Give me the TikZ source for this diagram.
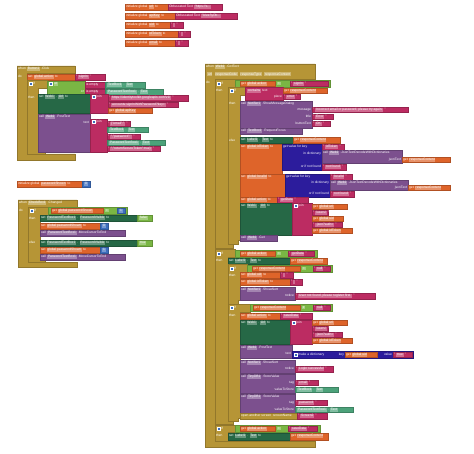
\documentclass[tikz,border=0pt]{standalone}
\usepackage{fontspec}
\setmainfont{Liberation Sans}
\usetikzlibrary{positioning}

\definecolor{evtc}{RGB}{182,149,54}
\definecolor{varc}{RGB}{222,100,42}
\definecolor{txtc}{RGB}{188,44,98}
\definecolor{lgcc}{RGB}{122,182,68}
\definecolor{csetc}{RGB}{38,104,70}
\definecolor{cmethc}{RGB}{124,80,142}
\definecolor{cgetc}{RGB}{76,162,122}
\definecolor{dictc}{RGB}{44,28,156}
\definecolor{numc}{RGB}{60,110,190}

\tikzset{
  evtb/.style={fill=evtc,draw=evtc!80!black,line width=.25pt},
  varb/.style={fill=varc,draw=varc!80!black,line width=.25pt},
  txtb/.style={fill=txtc,draw=txtc!80!black,line width=.25pt},
  lgcb/.style={fill=lgcc,draw=lgcc!80!black,line width=.25pt},
  csetb/.style={fill=csetc,draw=csetc!80!black,line width=.25pt},
  cmethb/.style={fill=cmethc,draw=cmethc!80!black,line width=.25pt},
  cgetb/.style={fill=cgetc,draw=cgetc!80!black,line width=.25pt},
  dictb/.style={fill=dictc,draw=dictc!80!black,line width=.25pt},
  numb/.style={fill=numc,draw=numc!80!black,line width=.25pt},
  lbl/.style={anchor=north west,text=white,inner xsep=.9pt,inner ysep=1.2pt,
    text height=2.4pt,text depth=.6pt,font=\fontsize{3.3}{3.6}\selectfont},
  fld/.style={lbl,fill=white,fill opacity=.3,text opacity=1,inner xsep=.7pt,inner ysep=.5pt},
  gear/.style={anchor=west,fill=numc,draw=white,line width=.2pt,minimum size=3pt,inner sep=0pt}
}

\newcommand\BkInit[4]{\path[varb] (#2) rectangle (#3);
  \node[lbl] (#1) at (#2) {initialize global};
  \node[fld,right=0pt of #1] (#1-a) {#4};
  \node[lbl,right=0pt of #1-a] (#1-b) {to};}
\newcommand\BkGet[4]{\path[varb] (#2) rectangle (#3);
  \node[lbl] (#1) at (#2) {get};
  \node[fld,right=0pt of #1] (#1-a) {#4};}
\newcommand\BkSet[4]{\path[varb] (#2) rectangle (#3);
  \node[lbl] (#1) at (#2) {set};
  \node[fld,right=0pt of #1] (#1-a) {#4};
  \node[lbl,right=0pt of #1-a] (#1-b) {to};}
\newcommand\BkCset[5]{\path[csetb] (#2) rectangle (#3);
  \node[lbl] (#1) at (#2) {set};
  \node[fld,right=0pt of #1] (#1-a) {#4};
  \node[lbl,right=0pt of #1-a] (#1-b) {.};
  \node[fld,right=0pt of #1-b] (#1-c) {#5};
  \node[lbl,right=0pt of #1-c] (#1-d) {to};}
\newcommand\BkCget[5]{\path[cgetb] (#2) rectangle (#3);
  \node[lbl] (#1) at (#2) {};
  \node[fld,right=0pt of #1] (#1-a) {#4};
  \node[lbl,right=0pt of #1-a] (#1-b) {.};
  \node[fld,right=0pt of #1-b] (#1-c) {#5};}
\newcommand\BkCall[5]{\path[cmethb] (#2) rectangle (#3);
  \node[lbl] (#1) at (#2) {call};
  \node[fld,right=0pt of #1] (#1-a) {#4};
  \node[lbl,right=0pt of #1-a] (#1-b) {.#5};}
\newcommand\BkStr[4]{\path[txtb] (#2) rectangle (#3);
  \node[lbl] (#1) at (#2) {"};
  \node[fld,right=0pt of #1] (#1-a) {#4};
  \node[lbl,right=0pt of #1-a] (#1-b) {"};}
\newcommand\BkNum[4]{\path[numb] (#2) rectangle (#3);
  \node[lbl] (#1) at (#2) {};
  \node[fld,right=0pt of #1] (#1-a) {#4};}
\newcommand\BkBool[4]{\path[lgcb] (#2) rectangle (#3);
  \node[lbl] (#1) at (#2) {};
  \node[fld,right=0pt of #1] (#1-a) {#4};}
\newcommand\BkJoin[3]{\path[txtb] (#2) rectangle (#3);
  \node[lbl] (#1) at (#2) {};
  \node[gear,right=0pt of #1] (#1-g) {};
  \node[lbl,right=0pt of #1-g] (#1-j) {join};}
\newcommand\BkIf[2]{\node[lbl] (#1) at (#2) {};
  \node[gear,right=0pt of #1] (#1-g) {};
  \node[lbl,right=0pt of #1-g] (#1-i) {if};}

\begin{document}
\begin{tikzpicture}[x=1bp,y=-1bp]
  \fill[white] (0,0) rectangle (474,454);
  \useasboundingbox (0,0) rectangle (474,454);

  \BkInit{gu}{125,4}{168,10}{url}
  \path[txtb] (168,4) rectangle (222,10);
  \node[lbl] (gus) at (168,4) {Obfuscated Text};
  \node[fld,right=0pt of gus] (gus-a) {"https://s...};
  \BkInit{gk}{125,13}{175,19}{apiKey}
  \path[txtb] (175,13) rectangle (237,19);
  \node[lbl] (gks) at (175,13) {Obfuscated Text};
  \node[fld,right=0pt of gks] (gks-a) {"AIzaSyDb...};
  \BkInit{gi}{125,22}{170,28}{uid}
  \BkStr{gis}{170,22}{183,28}{\,}
  \BkInit{gt}{125,31}{178,37}{idToken}
  \BkStr{gts}{178,31}{190,37}{\,}
  \BkInit{ge}{125,40}{175,46}{email}
  \BkStr{ges}{175,40}{188,46}{\,}

  \path[evtb] (17,66) -- (75,66) -- (75,73) -- (27,73) -- (27,154) -- (75,154) -- (75,160) -- (17,160) -- cycle;
  \node[lbl] (ck) at (17,66) {when};
  \node[fld,right=0pt of ck] (ck-a) {Button1};
  \node[lbl,right=0pt of ck-a] (ck-b) {.Click};
  \node[lbl] (ck-do) at (17,74) {do};
  \BkSet{ca}{27,74}{75,80}{global action}
  \BkStr{cas}{75,74}{105,80}{signIn}
  \path[evtb] (27,80) -- (47,80) -- (47,88) -- (38,88) -- (38,150) -- (45,150) -- (45,154) -- (27,154) -- cycle;
  \BkIf{cif}{27,81}
  \node[lbl] (cif-t) at (27,95) {then};
  \path[lgcb] (47,81) rectangle (85,96);
  \node[lbl] (cor) at (47,81) {};
  \node[gear,right=0pt of cor] (cor-g) {};
  \node[fld,right=1pt of cor-g] (cor-a) {or};
  \node[lbl,anchor=north east] (cor-b) at (85,89) {or};
  \path[txtb] (85,82) rectangle (105,88);
  \node[lbl] (ie1) at (85,82) {is empty};
  \path[txtb] (85,89) rectangle (105,95);
  \node[lbl] (ie2) at (85,89) {is empty};
  \BkCget{tb1}{105,82}{145,88}{TextBox1}{Text}
  \BkCget{pw1}{105,89}{163,95}{PasswordTextBox1}{Text}
  \BkCset{wu}{38,94}{90,113}{Web1}{Url}
  \BkJoin{wuj}{90,94}{108,113}
  \BkStr{wu1}{108,95}{188,101}{https://identitytoolkit.googleapis.com/v1/}
  \BkStr{wu2}{108,102}{178,107}{accounts:signInWithPassword?key=}
  \BkGet{wu3}{108,108}{152,113}{global apiKey}
  \BkCall{pt}{38,114}{90,152}{Web1}{PostText}
  \node[lbl,anchor=north east] (pt-t) at (90,120) {text};
  \BkJoin{ptj}{90,119}{107,152}
  \BkStr{pt1}{107,121}{130,126}{\{"email":"}
  \BkCget{pt2}{107,127}{148,132}{TextBox1}{Text}
  \BkStr{pt3}{107,134}{140,139}{","password":"}
  \BkCget{pt4}{107,140}{165,145}{PasswordTextBox1}{Text}
  \BkStr{pt5}{107,146}{160,151}{","returnSecureToken":true\}}

  \BkInit{gs}{17,181}{82,187}{passwordShown}
  \BkNum{gsn}{82,181}{90,187}{0}

  \path[evtb] (18,200) -- (77,200) -- (77,207) -- (28,207) -- (28,262) -- (77,262) -- (77,267) -- (18,267) -- cycle;
  \node[lbl] (cb) at (18,200) {when};
  \node[fld,right=0pt of cb] (cb-a) {CheckBox1};
  \node[lbl,right=0pt of cb-a] (cb-b) {.Changed};
  \node[lbl] (cb-do) at (18,208) {do};
  \path[evtb] (28,207) -- (48,207) -- (48,215) -- (40,215) -- (40,258) -- (45,258) -- (45,262) -- (28,262) -- cycle;
  \BkIf{cbif}{28,208}
  \node[lbl] (cbif-t) at (28,216) {then};
  \node[lbl] (cbif-e) at (28,240) {else};
  \path[lgcb] (48,207) rectangle (127,214);
  \BkGet{cbc}{51,208}{103,213}{global passwordShown}
  \node[fld,anchor=west] (cbc-e) at (105,210.5) {=};
  \BkNum{cbcn}{117,208}{125,213}{1}
  \BkCset{cb1}{40,215}{137,221}{PasswordTextBox1}{PasswordVisible}
  \BkBool{cb1b}{137,215}{152,221}{false}
  \BkSet{cb2}{40,223}{100,229}{global passwordShown}
  \BkNum{cb2n}{100,223}{108,229}{0}
  \BkCall{cb3}{40,230}{125,236}{PasswordTextBox1}{MoveCursorToEnd}
  \BkCset{cb4}{40,240}{137,246}{PasswordTextBox1}{PasswordVisible}
  \BkBool{cb4b}{137,240}{152,246}{true}
  \BkSet{cb5}{40,247}{100,253}{global passwordShown}
  \BkNum{cb5n}{100,247}{108,253}{1}
  \BkCall{cb6}{40,254}{125,260}{PasswordTextBox1}{MoveCursorToEnd}

  \path[evtb] (205,64) -- (315,64) -- (315,79) -- (215,79) -- (215,441) -- (315,441) -- (315,447) -- (205,447) -- cycle;
  \node[lbl] (gt) at (205,64) {when};
  \node[fld,right=0pt of gt] (gt-a) {Web1};
  \node[lbl,right=0pt of gt-a] (gt-b) {.GotText};
  \node[lbl] (gt-p) at (205,71.5) {};
  \node[fld,right=0pt of gt-p] (gt-p1) {url};
  \node[fld,right=2pt of gt-p1] (gt-p2) {responseCode};
  \node[fld,right=2pt of gt-p2] (gt-p3) {responseType};
  \node[fld,right=2pt of gt-p3] (gt-p4) {responseContent};
  \node[lbl] (gt-do) at (205,80) {do};

  \path[evtb] (215,79) -- (235,79) -- (235,87) -- (228,87) -- (228,243) -- (233,243) -- (233,248) -- (215,248) -- cycle;
  \BkIf{ia}{215,80.5}
  \node[lbl] (ia-t) at (215,88) {then};
  \path[lgcb] (235,80) rectangle (330,87);
  \BkGet{iac}{240,81}{275,86}{global action}
  \node[fld,anchor=west] (iac-e) at (277,83.5) {=};
  \BkStr{iacs}{290,81}{328,86}{signIn}
  \path[evtb] (228,87) -- (245,87) -- (245,95) -- (240,95) -- (240,240) -- (238,240) -- (238,244) -- (228,244) -- cycle;
  \BkIf{ib}{228,88}
  \node[lbl] (ib-t) at (228,101) {then};
  \node[lbl] (ib-e) at (228,138) {else};
  \path[txtb] (245,87) rectangle (283,100);
  \node[lbl] (ibc) at (245,88) {};
  \node[fld,right=0pt of ibc] (ibc-a) {contains};
  \node[lbl,right=0pt of ibc-a] (ibc-b) {text};
  \node[lbl,anchor=north east] (ibc-p) at (283,94) {piece};
  \BkGet{ibc1}{283,88}{327,93}{responseContent}
  \BkStr{ibc2}{283,94}{300,99}{error}
  \BkCall{md}{240,101}{312,128}{Notifier1}{ShowMessageDialog}
  \node[lbl,anchor=north east] (md-m) at (312,107) {message};
  \node[lbl,anchor=north east] (md-t) at (312,114) {title};
  \node[lbl,anchor=north east] (md-b) at (312,121) {buttonText};
  \BkStr{md1}{312,107}{408,112}{Incorrect email or password, please try again.}
  \BkStr{md2}{312,114}{333,119}{Error}
  \BkStr{md3}{312,121}{330,126}{OK}
  \BkCall{rf}{240,128}{302,134}{TextBox1}{RequestFocus}
  \BkCset{lb}{240,137}{293,143}{Label1}{Text}
  \BkGet{lbv}{293,137}{340,143}{responseContent}

  \BkSet{da}{240,144}{282,174}{global idToken}
  \path[dictb] (282,144) rectangle (322,170);
  \node[lbl] (dak) at (282,144) {get value for key};
  \node[lbl,anchor=north east] (dai) at (322,151) {in dictionary};
  \node[lbl,anchor=north east] (dan) at (322,164) {or if not found};
  \BkStr{daks}{322,144}{344,150}{idToken}
  \BkCall{dac}{322,150}{402,163}{Web1}{JsonTextDecodeWithDictionaries}
  \node[lbl,anchor=north east] (dac-j) at (402,157) {jsonText};
  \BkGet{daj}{402,157}{450,162}{responseContent}
  \BkStr{dans}{322,164}{346,170}{not found}
  \BkSet{db}{240,174}{285,197}{global localId}
  \path[dictb] (285,174) rectangle (330,197);
  \node[lbl] (dbk) at (285,174) {get value for key};
  \node[lbl,anchor=north east] (dbi) at (330,180) {in dictionary};
  \node[lbl,anchor=north east] (dbn) at (330,191) {or if not found};
  \BkStr{dbks}{330,174}{352,180}{localId}
  \BkCall{dbc}{330,180}{408,190}{Web1}{JsonTextDecodeWithDictionaries}
  \node[lbl,anchor=north east] (dbc-j) at (408,185) {jsonText};
  \BkGet{dbj}{408,185}{450,190}{responseContent}
  \BkStr{dbns}{330,191}{354,197}{not found}

  \BkSet{ac}{240,197}{277,203}{global action}
  \BkStr{acs}{277,197}{308,203}{getData}
  \BkCset{wg}{240,203}{292,235}{Web1}{Url}
  \BkJoin{wgj}{292,203}{312,235}
  \BkGet{wg1}{312,204}{347,209}{global url}
  \BkStr{wg2}{312,210}{328,215}{/users/}
  \BkGet{wg3}{312,216}{343,221}{global uid}
  \BkStr{wg4}{312,222}{342,227}{.json?auth=}
  \BkGet{wg5}{312,228}{352,233}{global idToken}
  \BkCall{wgc}{240,235}{277,241}{Web1}{Get}

  \path[evtb] (215,249) -- (235,249) -- (235,257) -- (228,257) -- (228,420) -- (233,420) -- (233,424) -- (215,424) -- cycle;
  \BkIf{ic}{215,250.5}
  \node[lbl] (ic-t) at (215,258) {then};
  \path[lgcb] (235,250) rectangle (317,257);
  \BkGet{icc}{240,251}{275,256}{global action}
  \node[fld,anchor=west] (icc-e) at (277,253.5) {=};
  \BkStr{iccs}{288,251}{314,256}{getData}
  \BkCset{lc}{228,258}{290,264}{Label1}{Text}
  \BkGet{lcv}{290,258}{327,264}{responseContent}

  \path[evtb] (228,264.5) -- (247,264.5) -- (247,272) -- (240,272) -- (240,300) -- (238,300) -- (238,304) -- (228,304) -- cycle;
  \BkIf{id}{228,265.5}
  \node[lbl] (id-t) at (228,273) {then};
  \path[lgcb] (247,265) rectangle (332,272);
  \BkGet{idc}{252,266}{300,271}{responseContent}
  \node[fld,anchor=west] (idc-e) at (302,268.5) {=};
  \BkStr{idcs}{313,266}{330,271}{null}
  \BkSet{ud}{240,272}{280,278}{global uid}
  \BkStr{uds}{280,272}{293,278}{\,}
  \BkSet{td}{240,279}{290,285}{global idToken}
  \BkStr{tds}{290,279}{302,285}{\,}
  \BkCall{sa}{240,287}{295,300}{Notifier1}{ShowAlert}
  \node[lbl,anchor=north east] (sa-n) at (295,293) {notice};
  \BkStr{sas}{295,293}{375,299}{User not found, please register first.}

  \path[evtb] (228,304) -- (250,304) -- (250,312) -- (240,312) -- (240,418) -- (238,418) -- (238,421) -- (228,421) -- cycle;
  \BkIf{ie}{228,305}
  \node[lbl] (ie-t) at (228,313) {then};
  \path[lgcb] (250,304) rectangle (332,311);
  \BkGet{iec}{253,305}{300,310}{responseContent}
  \node[fld,anchor=west] (iec-e) at (302,307.5) {≠};
  \BkStr{iecs}{313,305}{330,310}{null}
  \BkSet{as}{240,313}{280,319}{global action}
  \BkStr{ass}{280,313}{312,319}{saveData}
  \BkCset{wp}{240,320}{290,344}{Web1}{Url}
  \BkJoin{wpj}{290,320}{312,344}
  \BkGet{wp1}{312,320}{347,325}{global url}
  \BkStr{wp2}{312,326}{328,331}{/users/}
  \BkStr{wp3}{312,332}{342,337}{.json?auth=}
  \BkGet{wp4}{312,338}{352,343}{global idToken}
  \BkCall{pp}{240,345}{292,358}{Web1}{PostText}
  \node[lbl,anchor=north east] (pp-t) at (292,351) {text};
  \path[dictb] (292,351) rectangle (413,358);
  \node[lbl] (mk) at (292,351.5) {};
  \node[gear,right=0pt of mk] (mk-g) {};
  \node[lbl,right=0pt of mk-g] (mk-a) {make a dictionary};
  \node[lbl,anchor=north east] (mk-k) at (345,351.5) {key};
  \BkGet{mkk}{345,352}{377,357}{global uid}
  \node[lbl,anchor=north east] (mk-v) at (393,351.5) {value};
  \BkStr{mkv}{393,352}{412,357}{true}
  \BkCall{sb}{240,360}{295,373}{Notifier1}{ShowAlert}
  \node[lbl,anchor=north east] (sb-n) at (295,366) {notice};
  \BkStr{sbs}{295,366}{333,372}{Login successful}
  \BkCall{sv}{240,374}{295,393}{TinyDB1}{StoreValue}
  \node[lbl,anchor=north east] (sv-t) at (295,380) {tag};
  \node[lbl,anchor=north east] (sv-v) at (295,387) {valueToStore};
  \BkStr{svt}{295,380}{318,385}{email}
  \BkCget{svv}{295,387}{338,392}{TextBox1}{Text}
  \BkCall{sw}{240,394}{295,413}{TinyDB1}{StoreValue}
  \node[lbl,anchor=north east] (sw-t) at (295,400) {tag};
  \node[lbl,anchor=north east] (sw-v) at (295,407) {valueToStore};
  \BkStr{swt}{295,400}{327,405}{password}
  \BkCget{swv}{295,407}{353,412}{PasswordTextBox1}{Text}
  \path[evtb] (240,413) rectangle (297,419);
  \node[lbl] (os) at (240,413) {open another screen\ \ screenName};
  \BkStr{oss}{297,413}{327,419}{Screen2}

  \path[evtb] (215,425) -- (235,425) -- (235,432) -- (228,432) -- (228,438) -- (233,438) -- (233,441) -- (215,441) -- cycle;
  \BkIf{if}{215,425.5}
  \node[lbl] (if-t) at (215,433) {then};
  \path[lgcb] (235,425) rectangle (320,432);
  \BkGet{ifc}{240,426}{275,431}{global action}
  \node[fld,anchor=west] (ifc-e) at (277,428.5) {=};
  \BkStr{ifcs}{288,426}{317,431}{saveData}
  \BkCset{lf}{228,433}{290,440}{Label1}{Text}
  \BkGet{lfv}{290,433}{328,440}{responseContent}
\end{tikzpicture}
\end{document}
